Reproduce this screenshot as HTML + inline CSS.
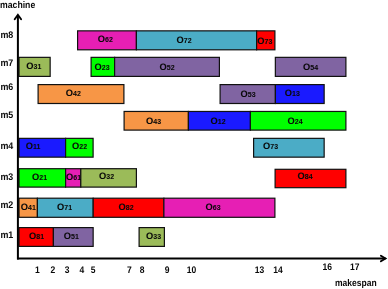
<!DOCTYPE html>
<html><head><meta charset="utf-8"><title>Gantt chart</title>
<style>
html,body{margin:0;padding:0;background:#fff;}
body{width:388px;height:289px;overflow:hidden;}
svg{display:block;}
text{font-family:"Liberation Sans","DejaVu Sans",sans-serif;font-weight:bold;fill:#0a0a0a;text-rendering:geometricPrecision;}
.ax{font-size:9.6px;}
.lb{font-size:9.3px;stroke:#0a0a0a;stroke-width:0.06px;}
.sb{font-size:7px;text-rendering:auto;}
.tk{font-size:9.6px;}
rect.b{stroke:#111;stroke-width:1.2;}
</style></head><body>
<svg width="388" height="289" viewBox="0 0 388 289">
<rect width="388" height="289" fill="#fff"/>
<rect class="b" x="77.6" y="30.85" width="58.8" height="18.95" fill="#e61fb4"/>
<rect class="b" x="136.4" y="30.85" width="120.2" height="18.95" fill="#4bacc6"/>
<rect class="b" x="256.6" y="30.85" width="18.3" height="18.95" fill="#ff0000"/>
<rect class="b" x="19" y="57.35" width="31.15" height="19.05" fill="#9bbb59"/>
<rect class="b" x="91.1" y="57.35" width="23.5" height="19.05" fill="#00ff00"/>
<rect class="b" x="114.6" y="57.35" width="104.8" height="19.05" fill="#8064a2"/>
<rect class="b" x="275.35" y="57.35" width="70.55" height="19.05" fill="#8064a2"/>
<rect class="b" x="38.1" y="84.6" width="85.8" height="18.9" fill="#f79646"/>
<rect class="b" x="220.1" y="84.6" width="55.3" height="18.9" fill="#8064a2"/>
<rect class="b" x="275.4" y="84.6" width="48.75" height="18.9" fill="#1a1aff"/>
<rect class="b" x="124.1" y="111.45" width="64.3" height="18.65" fill="#f79646"/>
<rect class="b" x="188.4" y="111.45" width="62" height="18.65" fill="#1a1aff"/>
<rect class="b" x="250.4" y="111.45" width="95.5" height="18.65" fill="#00ff00"/>
<rect class="b" x="19" y="138.35" width="46.6" height="18.8" fill="#1a1aff"/>
<rect class="b" x="65.6" y="138.35" width="27.5" height="18.8" fill="#00ff00"/>
<rect class="b" x="253.6" y="138.35" width="70.55" height="18.8" fill="#4bacc6"/>
<rect class="b" x="19" y="168.7" width="46.6" height="18.4" fill="#00ff00"/>
<rect class="b" x="65.6" y="168.7" width="15.2" height="18.4" fill="#e61fb4"/>
<rect class="b" x="80.8" y="168.7" width="55.6" height="18.4" fill="#9bbb59"/>
<rect class="b" x="275.1" y="169.3" width="70.8" height="18.4" fill="#ff0000"/>
<rect class="b" x="19" y="198.2" width="18.4" height="19.1" fill="#f79646"/>
<rect class="b" x="37.4" y="198.2" width="55.8" height="19.1" fill="#4bacc6"/>
<rect class="b" x="93.2" y="198.2" width="70.7" height="19.1" fill="#ff0000"/>
<rect class="b" x="163.9" y="198.2" width="111" height="19.1" fill="#e61fb4"/>
<rect class="b" x="19" y="227.6" width="34.4" height="18.8" fill="#ff0000"/>
<rect class="b" x="53.4" y="227.6" width="39.75" height="18.8" fill="#8064a2"/>
<rect class="b" x="139.1" y="227.6" width="25.3" height="18.8" fill="#9bbb59"/>
<text x="97.85" y="42.2" class="lb">O<tspan class="sb">62</tspan></text>
<text x="176.6" y="43.2" class="lb">O<tspan class="sb">72</tspan></text>
<text x="257.35" y="43.7" class="lb">O<tspan class="sb">73</tspan></text>
<text x="26.35" y="69" class="lb">O<tspan class="sb">31</tspan></text>
<text x="94.6" y="69.5" class="lb">O<tspan class="sb">23</tspan></text>
<text x="159.6" y="70" class="lb">O<tspan class="sb">52</tspan></text>
<text x="303.1" y="69.5" class="lb">O<tspan class="sb">54</tspan></text>
<text x="65.85" y="95.8" class="lb">O<tspan class="sb">42</tspan></text>
<text x="240.6" y="96.8" class="lb">O<tspan class="sb">53</tspan></text>
<text x="284.85" y="95.5" class="lb">O<tspan class="sb">13</tspan></text>
<text x="146.1" y="124.2" class="lb">O<tspan class="sb">43</tspan></text>
<text x="210.6" y="124.2" class="lb">O<tspan class="sb">12</tspan></text>
<text x="287.6" y="123.7" class="lb">O<tspan class="sb">24</tspan></text>
<text x="25.85" y="149.3" class="lb">O<tspan class="sb">11</tspan></text>
<text x="72.1" y="149.3" class="lb">O<tspan class="sb">22</tspan></text>
<text x="263.1" y="149.3" class="lb">O<tspan class="sb">73</tspan></text>
<text x="32.1" y="179.75" class="lb">O<tspan class="sb">21</tspan></text>
<text x="66.1" y="179.75" class="lb">O<tspan class="sb">61</tspan></text>
<text x="99.1" y="179.35" class="lb">O<tspan class="sb">32</tspan></text>
<text x="297.6" y="179.25" class="lb">O<tspan class="sb">84</tspan></text>
<text x="20.85" y="209.5" class="lb">O<tspan class="sb">41</tspan></text>
<text x="57.1" y="209.5" class="lb">O<tspan class="sb">71</tspan></text>
<text x="118.6" y="209.5" class="lb">O<tspan class="sb">82</tspan></text>
<text x="205.6" y="209.5" class="lb">O<tspan class="sb">63</tspan></text>
<text x="29.1" y="238.75" class="lb">O<tspan class="sb">81</tspan></text>
<text x="63.85" y="238.75" class="lb">O<tspan class="sb">51</tspan></text>
<text x="146.1" y="238.75" class="lb">O<tspan class="sb">33</tspan></text>
<path d="M17.9 259.5 V15" stroke="#000" stroke-width="2" fill="none"/>
<path d="M14.7 19.3 L17.9 14.8 L21.1 19.3" stroke="#000" stroke-width="1.9" fill="none" stroke-linecap="round" stroke-linejoin="miter"/>
<path d="M17 258.5 H385.5" stroke="#000" stroke-width="2" fill="none"/>
<path d="M380.9 255.7 L385.5 258.5 L380.9 261.3" stroke="#000" stroke-width="1.9" fill="none" stroke-linecap="round" stroke-linejoin="miter"/>
<text transform="translate(0 7.5) scale(0.905 1)" class="ax">machine</text>
<text transform="translate(0.4 37.9) scale(0.93 1)" class="ax">m8</text>
<text transform="translate(0.4 65.6) scale(0.93 1)" class="ax">m7</text>
<text transform="translate(0.4 89.8) scale(0.93 1)" class="ax">m6</text>
<text transform="translate(0.4 117.5) scale(0.93 1)" class="ax">m5</text>
<text transform="translate(0.4 148.75) scale(0.93 1)" class="ax">m4</text>
<text transform="translate(0.4 180) scale(0.93 1)" class="ax">m3</text>
<text transform="translate(0.4 207.5) scale(0.93 1)" class="ax">m2</text>
<text transform="translate(0.4 238.25) scale(0.93 1)" class="ax">m1</text>
<text transform="translate(37.5 272.5) scale(0.89 1)" text-anchor="middle" class="tk">1</text>
<text transform="translate(52.9 272.5) scale(0.89 1)" text-anchor="middle" class="tk">2</text>
<text transform="translate(67.1 272.5) scale(0.89 1)" text-anchor="middle" class="tk">3</text>
<text transform="translate(81.9 272.5) scale(0.89 1)" text-anchor="middle" class="tk">4</text>
<text transform="translate(93.1 272.5) scale(0.89 1)" text-anchor="middle" class="tk">5</text>
<text transform="translate(129.5 272.5) scale(0.89 1)" text-anchor="middle" class="tk">7</text>
<text transform="translate(142.25 272.5) scale(0.89 1)" text-anchor="middle" class="tk">8</text>
<text transform="translate(167.25 272.5) scale(0.89 1)" text-anchor="middle" class="tk">9</text>
<text transform="translate(191.5 272.5) scale(0.89 1)" text-anchor="middle" class="tk">10</text>
<text transform="translate(259.4 272.5) scale(0.89 1)" text-anchor="middle" class="tk">13</text>
<text transform="translate(278 272.5) scale(0.89 1)" text-anchor="middle" class="tk">14</text>
<text transform="translate(327.25 270) scale(0.89 1)" text-anchor="middle" class="tk">16</text>
<text transform="translate(354.75 270) scale(0.89 1)" text-anchor="middle" class="tk">17</text>
<text transform="translate(335 285.75) scale(0.89 1)" class="ax">makespan</text>
</svg></body></html>
